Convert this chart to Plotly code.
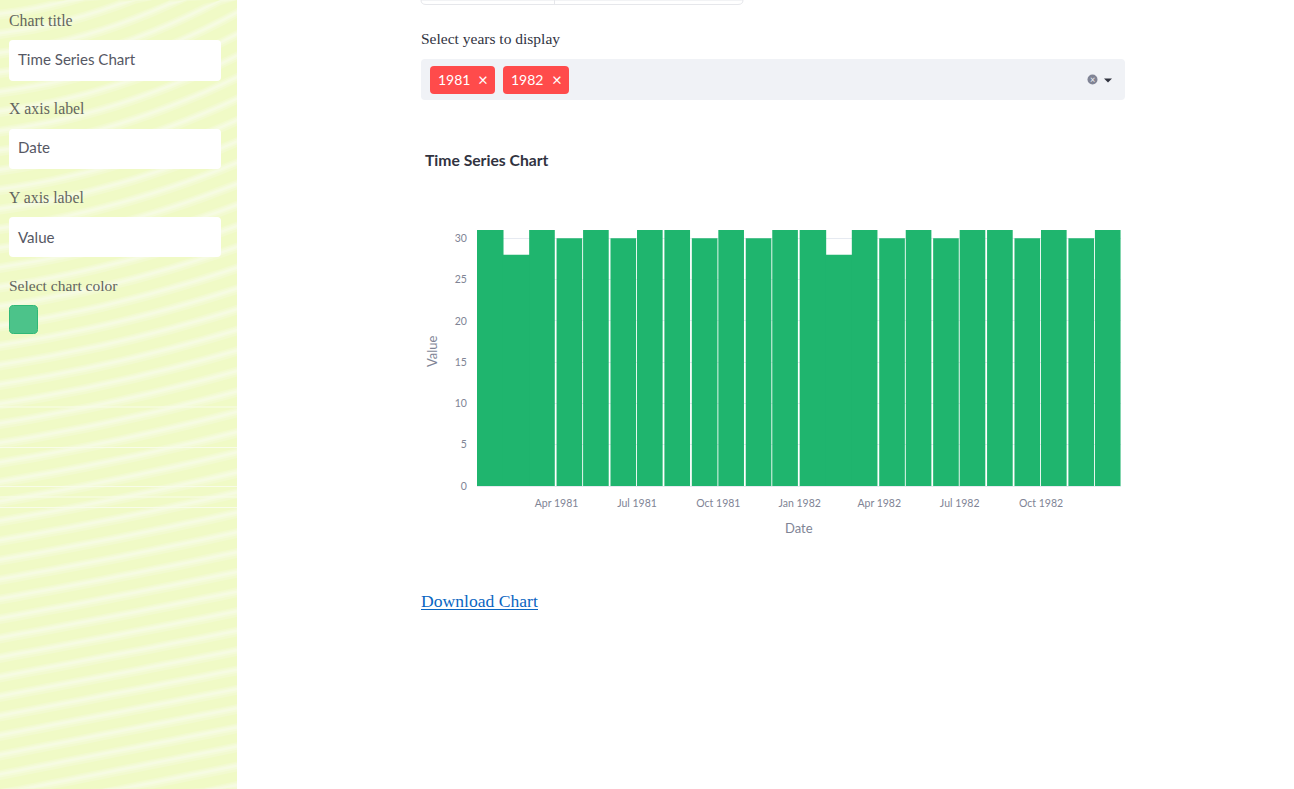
import datetime as dt
import plotly.graph_objects as go

# ---------- data ----------
MONTHS = ["1981-01-01","1981-02-01","1981-03-01","1981-04-01","1981-05-01","1981-06-01",
          "1981-07-01","1981-08-01","1981-09-01","1981-10-01","1981-11-01","1981-12-01",
          "1982-01-01","1982-02-01","1982-03-01","1982-04-01","1982-05-01","1982-06-01",
          "1982-07-01","1982-08-01","1982-09-01","1982-10-01","1982-11-01","1982-12-01"]
VALUES = [31,28,31,30,31,30,31,31,30,31,30,31,31,28,31,30,31,30,31,31,30,31,30,31]
TICK_DATES = ["1981-04-01","1981-07-01","1981-10-01","1982-01-01","1982-04-01","1982-07-01","1982-10-01"]
TICK_LABELS = ["Apr 1981","Jul 1981","Oct 1981","Jan 1982","Apr 1982","Jul 1982","Oct 1982"]
Y_TICKS = [0,5,10,15,20,25,30]

W, H = 1294, 789
SANS = "Source Sans Pro, Lato, Noto Sans, sans-serif"
SERIF = "Liberation Serif, serif"
DAY = 86400000
BAR = "#1fb56e"
AXIS_GREY = "#808495"

px = lambda x: x / W
py = lambda y: 1 - y / H

def P(x, y):
    y = min(max(y, 0), H)
    return f"{px(x):.6f},{py(y):.6f}"

def rrect(x0, y0, x1, y1, r, fill, line=None, lw=1):
    d = (f"M{P(x0+r,y0)} L{P(x1-r,y0)} Q{P(x1,y0)} {P(x1,y0+r)} L{P(x1,y1-r)} "
         f"Q{P(x1,y1)} {P(x1-r,y1)} L{P(x0+r,y1)} Q{P(x0,y1)} {P(x0,y1-r)} "
         f"L{P(x0,y0+r)} Q{P(x0,y0)} {P(x0+r,y0)} Z")
    return dict(type="path", xref="paper", yref="paper", path=d, fillcolor=fill, layer="below",
                line=dict(color=line or "rgba(0,0,0,0)", width=lw if line else 0))

def hline(x0, x1, y, color, w=1):
    return dict(type="line", xref="paper", yref="paper", x0=px(x0), x1=px(x1), y0=py(y), y1=py(y),
                line=dict(color=color, width=w), layer="below")

shapes = []
# sidebar base
shapes.append(dict(type="rect", xref="paper", yref="paper", x0=0, x1=px(237), y0=0, y1=1,
                   fillcolor="#f0fac6", line=dict(width=0), layer="below"))

# sidebar wavy stripes
def curve(y0, x):
    t = min(max(y0, 0), 800) / 800
    a = 0.12 + 0.08 * t
    b = 0.0011 * (1 - t) ** 2
    return y0 - a * x - b * x * x

xs = list(range(0, 238, 17)) + [237]
y0 = -10
while y0 < 880:
    for off, th, col in ((0, 10, "#f2fad0"), (1.5, 6, "#f4fbd9"), (3, 2.5, "#f6fbe2")):
        top = [(x, curve(y0 + off, x)) for x in xs]
        bot = [(x, curve(y0 + off, x) + th) for x in reversed(xs)]
        pts = top + bot
        d = "M" + " L".join(P(x, y) for x, y in pts) + " Z"
        shapes.append(dict(type="path", xref="paper", yref="paper", path=d, fillcolor=col,
                           line=dict(width=0), layer="below"))
    y0 += 19.5

for y in (407, 447.5, 486.5, 497, 507.5):
    shapes.append(hline(0, 237, y, "#f8fce8", 1))

# sidebar inputs
for a, b in ((40, 81), (129, 169), (217, 257)):
    shapes.append(rrect(9, a, 221, b, 4, "#ffffff"))
shapes.append(rrect(9.5, 305.5, 37.5, 333.5, 4, "#4cc38a", "#2fb878", 1))

# main widgets
shapes.append(rrect(421, -20, 743, 4.5, 5, "#ffffff", "#e6e7eb", 1))
shapes.append(dict(type="line", xref="paper", yref="paper", x0=px(554.5), x1=px(554.5), y0=py(0), y1=py(4.5),
                   line=dict(color="#e6e7eb", width=1), layer="below"))
shapes.append(rrect(421, 59, 1125, 100, 4, "#f0f2f6"))
shapes.append(rrect(430, 66, 495, 94, 4, "#ff4b4b"))
shapes.append(rrect(503, 66, 569, 94, 4, "#ff4b4b"))
shapes.append(dict(type="circle", xref="paper", yref="paper", x0=px(1087.5), x1=px(1097.5), y0=py(84.5), y1=py(74.5),
                   fillcolor="#808495", line=dict(width=0), layer="below"))
shapes.append(dict(type="path", xref="paper", yref="paper",
                   path=f"M{P(1104,78.5)} L{P(1112,78.5)} L{P(1108,82.5)} Z",
                   fillcolor="#31333f", line=dict(width=0), layer="below"))
# link underline
shapes.append(hline(421, 538, 609.5, "#0a66c2", 1))


def text(x, y, s, size, color, family=SERIF, anchor="left", angle=0):
    return dict(x=px(x), y=py(y), xref="paper", yref="paper", text=s, showarrow=False,
                xanchor=anchor, yanchor="middle", borderpad=0, textangle=angle,
                font=dict(size=size, color=color, family=family))

LABEL = "#63655f"
ann = [
    text(8, 20.5, "Chart title", 15.8, LABEL),
    text(8, 108.5, "X axis label", 15.8, LABEL),
    text(8, 197, "Y axis label", 15.8, LABEL),
    text(8, 285.5, "Select chart color", 15.5, LABEL),
    text(17, 59.5, "Time Series Chart", 15.1, "#565864", SANS),
    text(17, 147.5, "Date", 15.1, "#565864", SANS),
    text(17, 236.5, "Value", 15.1, "#565864", SANS),
    text(420, 39, "Select years to display", 15.5, "#31333f"),
    text(436.5, 79.5, "1981", 14, "#ffffff", SANS),
    text(510, 79.5, "1982", 14, "#ffffff", SANS),
    text(482.5, 79.5, "×", 17, "#ffffff", SANS, "center"),
    text(556.5, 79.5, "×", 17, "#ffffff", SANS, "center"),
    text(1092.5, 79.5, "×", 9, "#f0f2f6", SANS, "center"),
    text(420, 601, "Download Chart", 17.6, "#0a66c2"),
    text(799, 528, "Date", 13, AXIS_GREY, SANS, "center"),
    text(432, 351, "Value", 13, AXIS_GREY, SANS, "center", -90),
]

# month-start bars, one width; January and February overlap their neighbours so no seam shows
start = dt.datetime(1981, 1, 1)
x_end = start + dt.timedelta(days=728.5)
BAR_DAYS = {"01": 30.0, "02": 31.8}
widths = [BAR_DAYS.get(m[5:7], 29.0) * DAY for m in MONTHS]
offsets = [-2.2 * DAY if m[5:7] == "02" else 0 for m in MONTHS]

fig = go.Figure(go.Bar(x=MONTHS, y=VALUES, width=widths, offset=offsets,
                       marker=dict(color=BAR, line=dict(width=0))))
fig.update_layout(
    width=W, height=H, margin=dict(l=0, r=0, t=0, b=0, autoexpand=False),
    paper_bgcolor="#ffffff", plot_bgcolor="#ffffff", showlegend=False,
    shapes=shapes, annotations=ann,
    title=dict(text="<b>Time Series Chart</b>", x=px(425), xref="paper", xanchor="left",
               y=py(160.5), yref="paper", yanchor="middle",
               font=dict(family=SANS, size=15.7, color="#31333f")),
    xaxis=dict(type="date", domain=[px(477), px(1121)], range=[start, x_end], automargin=False,
               tickmode="array", tickvals=TICK_DATES, ticktext=TICK_LABELS,
               tickfont=dict(family=SANS, size=10.5, color=AXIS_GREY),
               showgrid=False, zeroline=False, showline=True, linecolor="#e6eaf1", linewidth=1,
               ticks="outside", ticklen=7, tickcolor="rgba(0,0,0,0)"),
    yaxis=dict(domain=[py(486), py(230)], range=[0, 31], tickmode="array", tickvals=Y_TICKS, automargin=False,
               tickfont=dict(family=SANS, size=10.5, color=AXIS_GREY),
               showgrid=True, gridcolor="#e6eaf1", gridwidth=1, zeroline=False, showline=False,
               ticks="outside", ticklen=7, tickcolor="rgba(0,0,0,0)"),
)
fig.write_html("out.html", config=dict(displayModeBar=False),
               post_script="document.body.style.margin='0';document.body.style.overflow='hidden';")
